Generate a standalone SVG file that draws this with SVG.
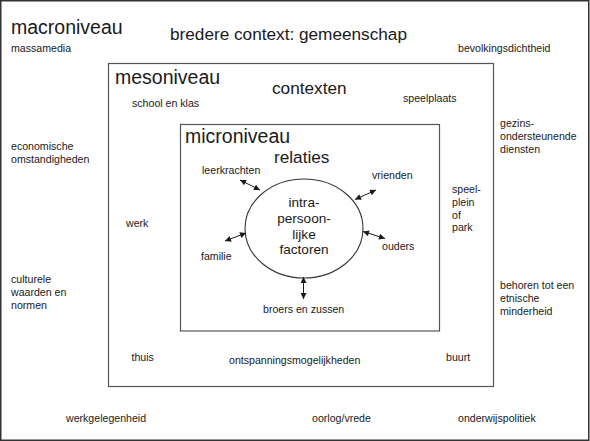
<svg xmlns="http://www.w3.org/2000/svg" width="590" height="441" viewBox="0 0 590 441">
<style>
text{font-family:"Liberation Sans",Arial,sans-serif;fill:#1a1a1a}
.s{font-size:10.6px}
.h{font-size:19.5px}
.m{font-size:17.2px}
.c{font-size:13.6px}
.box{fill:none;stroke:#555;stroke-width:1.2}
.arr{stroke:#1a1a1a;stroke-width:1;fill:none;marker-start:url(#ah);marker-end:url(#ah)}
</style>
<defs>
<marker id="ah" viewBox="0 0 10 10" refX="10" refY="5" markerWidth="7" markerHeight="6" markerUnits="userSpaceOnUse" orient="auto-start-reverse">
<path d="M0,0 L10,5 L0,10 z" fill="#1a1a1a"/>
</marker>
</defs>
<rect width="590" height="441" fill="#fff"/>
<g id="macro">
<rect x="0.75" y="0.75" width="588" height="439.5" fill="none" stroke="#333" stroke-width="1.5"/>
<text class="h" x="11" y="34">macroniveau</text>
<text class="m" x="170" y="40">bredere context: gemeenschap</text>
<text class="s" x="11" y="52">massamedia</text>
<text class="s" x="458" y="52">bevolkingsdichtheid</text>
<text class="s" x="11" y="149.5">economische</text>
<text class="s" x="11" y="162.5">omstandigheden</text>
<text class="s" x="11" y="282.5">culturele</text>
<text class="s" x="11" y="295.5">waarden en</text>
<text class="s" x="11" y="308.5">normen</text>
<text class="s" x="500" y="127">gezins-</text>
<text class="s" x="500" y="140">ondersteunende</text>
<text class="s" x="500" y="153">diensten</text>
<text class="s" x="500" y="289">behoren tot een</text>
<text class="s" x="500" y="302">etnische</text>
<text class="s" x="500" y="315">minderheid</text>
<text class="s" x="66" y="422">werkgelegenheid</text>
<text class="s" x="312" y="422">oorlog/vrede</text>
<text class="s" x="458" y="422">onderwijspolitiek</text>
</g>
<g id="meso">
<rect class="box" x="108.5" y="63.5" width="385" height="323"/>
<text class="h" x="115" y="83.5">mesoniveau</text>
<text class="m" x="272" y="94">contexten</text>
<text class="s" x="132" y="107">school en klas</text>
<text class="s" x="403" y="102">speelplaats</text>
<text class="s" x="126" y="227">werk</text>
<text class="s" x="452" y="192.5">speel-</text>
<text class="s" x="452" y="205.5">plein</text>
<text class="s" x="452" y="218.5">of</text>
<text class="s" x="452" y="231">park</text>
<text class="s" x="131.5" y="361">thuis</text>
<text class="s" x="229" y="363.5">ontspanningsmogelijkheden</text>
<text class="s" x="446" y="361">buurt</text>
</g>
<g id="micro">
<rect class="box" x="180.5" y="124.5" width="259" height="206.5"/>
<text class="h" x="185" y="143">microniveau</text>
<text class="m" x="274" y="163">relaties</text>
<text class="s" x="202" y="174">leerkrachten</text>
<text class="s" x="372" y="178.5">vrienden</text>
<text class="s" x="382" y="249.5">ouders</text>
<text class="s" x="201" y="259.5">familie</text>
<text class="s" x="263" y="312.5">broers en zussen</text>
</g>
<g id="intra">
<ellipse cx="304" cy="228.5" rx="59" ry="49.5" fill="none" stroke="#333" stroke-width="1.1"/>
<text class="c" text-anchor="middle" x="304" y="206.5">intra-</text>
<text class="c" text-anchor="middle" x="304" y="222.5">persoon-</text>
<text class="c" text-anchor="middle" x="304" y="238.5">lijke</text>
<text class="c" text-anchor="middle" x="304" y="254">factoren</text>
</g>
<g id="connectors">
<line class="arr" x1="240" y1="180" x2="260" y2="190"/>
<line class="arr" x1="355" y1="199.5" x2="376" y2="190"/>
<line class="arr" x1="363" y1="231.5" x2="385" y2="238.5"/>
<line class="arr" x1="225" y1="241" x2="246" y2="233"/>
<line class="arr" x1="303.5" y1="277" x2="303.5" y2="299"/>
</g>
</svg>
